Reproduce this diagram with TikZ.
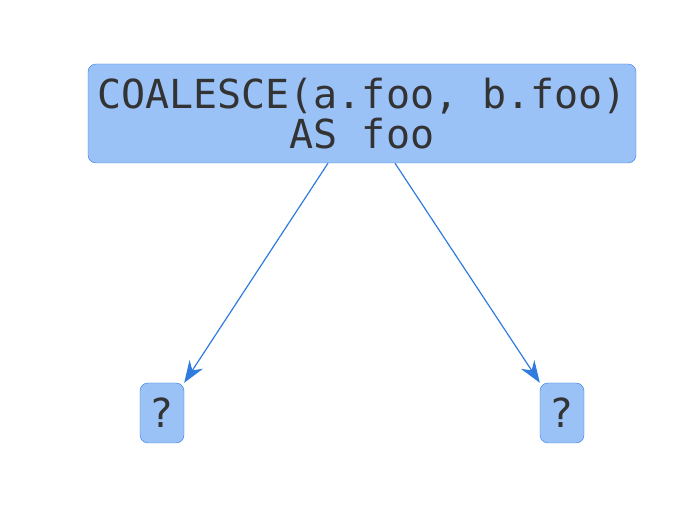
\documentclass[tikz,border=0pt]{standalone}
\usepackage{fontspec}
\setmonofont{DejaVu Sans Mono}
\usetikzlibrary{arrows.meta}
\definecolor{boxfill}{HTML}{9AC2F7}
\definecolor{boxline}{HTML}{2F7BE0}
\definecolor{txt}{HTML}{333333}
\tikzset{
	exprstyle/.style={rectangle,rounded corners=8pt,draw=boxline,fill=boxfill,text=txt,font=\ttfamily\fontsize{40}{40}\selectfont,align=center,inner sep=0pt},
	edgestyle/.style={draw=boxline,line width=1.2pt,-{Stealth[length=22pt,width=16pt]}}
}
\begin{document}
\begin{tikzpicture}[x=1pt,y=1pt]
	\useasboundingbox (0,0) rectangle (692,510);
	\node[exprstyle,minimum width=548pt,minimum height=99pt] (top) at (362,396.5) {COALESCE(a.foo, b.foo)\\AS foo};
	\node[exprstyle,minimum width=44pt,minimum height=60pt] (l) at (162,97) {?};
	\node[exprstyle,minimum width=44pt,minimum height=60pt] (r) at (562,97) {?};
	\draw[edgestyle] ([xshift=-34pt]top.south) -- (l.north east);
	\draw[edgestyle] ([xshift=33pt]top.south) -- (r.north west);
\end{tikzpicture}
\end{document}
